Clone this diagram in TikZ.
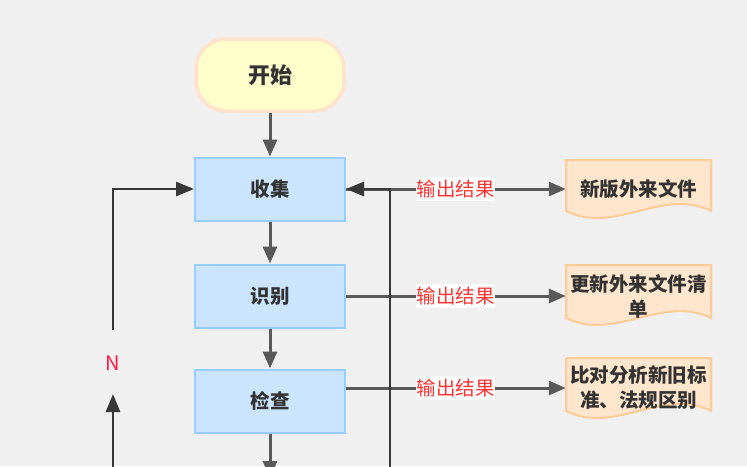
\documentclass[tikz,border=0pt]{standalone}
\usepackage{fontspec}
\setmainfont{Noto Sans CJK SC}
\usetikzlibrary{arrows.meta,calc}
\definecolor{bgc}{HTML}{F0F0F0}
\definecolor{startfill}{HTML}{FFFFCC}
\definecolor{startline}{HTML}{FFE3CC}
\definecolor{boxfill}{HTML}{CCE5FF}
\definecolor{boxline}{HTML}{99CCFF}
\definecolor{docfill}{HTML}{FFE6CC}
\definecolor{docline}{HTML}{FFCC99}
\definecolor{txt}{HTML}{333333}
\definecolor{flowc}{HTML}{595959}
\definecolor{fbc}{HTML}{383838}
\definecolor{lblc}{HTML}{FF3333}
\definecolor{nred}{HTML}{FF1A40}
\newcommand\docshape[4]{%
  \filldraw[docsty] (#1,#2) -- (#3,#2) -- (#3,#4)
    .. controls ({#3-(#3-#1)/3},{#4-24}) and ({#1+(#3-#1)/3},{#4+24}) .. (#1,#4) -- cycle;}
\begin{document}
\begin{tikzpicture}[x=1pt,y=-1pt,
  startsty/.style={draw=startline,fill=startfill,line width=3.5pt,rounded corners=30pt,
    minimum width=148pt,minimum height=72pt,font=\fontsize{22}{26}\selectfont\bfseries,text=txt},
  boxsty/.style={draw=boxline,fill=boxfill,line width=2pt,
    minimum width=150pt,minimum height=63pt,font=\fontsize{19.5}{24}\selectfont\bfseries,text=txt},
  docsty/.style={draw=docline,fill=docfill,line width=2pt},
  doctext/.style={minimum width=145pt,inner sep=0pt,align=center,
    font=\fontsize{19.5}{25}\selectfont\bfseries,text=txt},
  flow/.style={draw=flowc,line width=3pt,-{Triangle[length=17pt,width=14pt]}},
  fb/.style={draw=fbc,line width=2.8pt,-{Triangle[length=18pt,width=14pt]}},
  lbl/.style={fill=white,text=lblc,inner xsep=0.5pt,inner ysep=3pt,
    font=\fontsize{19.5}{22}\selectfont}
]
\fill[bgc] (0,0) rectangle (747,466);
\useasboundingbox (0,0) rectangle (747,466);
\clip (0,0) rectangle (747,466);

% documents
\docshape{566}{160}{711}{211}
\node[doctext] (d1) at (638.5,189) {新版外来文件};
\docshape{566}{265}{711}{318}
\node[doctext] (d2) at (638.5,296) {更新外来文件清\\单};
\docshape{566}{358}{711}{411}
\node[doctext] (d3) at (638.5,388) {比对分析新旧标\\准、法规区别};

% main flow
\node[startsty] (start) at (270,75) {开始};
\node[boxsty] (c1) at (270,189) {收集};
\node[boxsty] (c2) at (270,296) {识别};
\node[boxsty] (c3) at (270,401) {检查};
\coordinate (bot) at (270,478);

\draw[flow] (start) -- (c1);
\draw[flow] (c1) -- (c2);
\draw[flow] (c2) -- (c3);
\draw[flow] (c3) -- (bot);

% outputs
\draw[flow] (c1.east) -- node[lbl] {输出结果} (d1.west);
\draw[flow] (c2.east) -- node[lbl] {输出结果} (d2.west);
\draw[flow] (c3.east |- d3.west) -- node[lbl] {输出结果} (d3.west);

% feedback loops
\coordinate (R0) at (390,475);
\draw[fb] (R0) |- (c1.east);
\coordinate (L1) at (113,330);
\draw[fb] (L1) |- (c1.west);
\node[text=nred,font=\fontsize{20}{24}\selectfont] (N) at (113,363) {N};
\coordinate (L0) at (113,475);
\coordinate (Ltip) at (113,394);
\draw[fb] (L0) -- (Ltip);
\end{tikzpicture}
\end{document}
